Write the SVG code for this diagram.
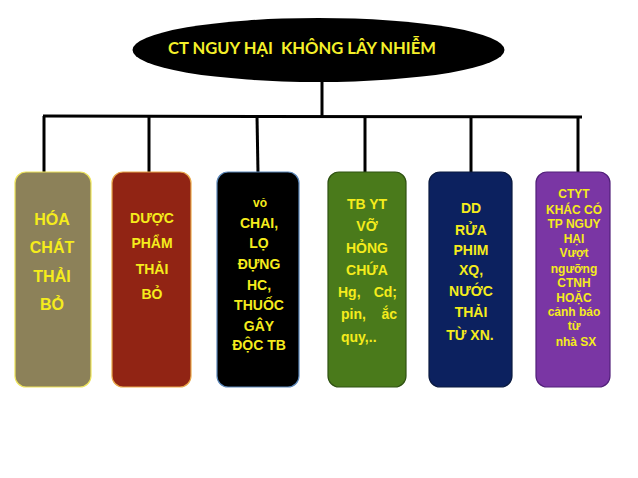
<svg xmlns="http://www.w3.org/2000/svg" width="638" height="478" viewBox="0 0 638 478">
<style>
.t{font-family:"Liberation Sans",Arial,sans-serif;font-weight:bold;fill:#F5EC1C;text-anchor:middle}
.ln{stroke:#000;stroke-width:3;fill:none}
.box{stroke-width:1.2}
</style>
<rect width="638" height="478" fill="#fff"/>
<g id="connectors">
<line class="ln" x1="322" y1="80" x2="322" y2="116"/>
<line class="ln" x1="43" y1="116" x2="582" y2="117"/>
<line class="ln" x1="44" y1="116" x2="44" y2="173"/>
<line class="ln" x1="149" y1="116" x2="149" y2="173"/>
<line class="ln" x1="257" y1="116" x2="258" y2="173"/>
<line class="ln" x1="365" y1="117" x2="365" y2="173"/>
<line class="ln" x1="471" y1="117" x2="471" y2="173"/>
<line class="ln" x1="578" y1="117" x2="578" y2="173"/>
</g>
<g id="title">
<ellipse cx="318.5" cy="50" rx="186" ry="32" fill="#000"/>
<text x="302" y="54" font-family="Lato,'Open Sans',sans-serif" font-weight="bold" font-size="17" fill="#F5F029" text-anchor="middle" style="white-space:pre" textLength="268" lengthAdjust="spacingAndGlyphs">CT NGUY HẠI  KHÔNG LÂY NHIỄM</text>
</g>
<g id="box1">
<rect class="box" x="15" y="172" width="76" height="215" rx="11" fill="#8C8159" stroke="#EDE45A"/>
<text class="t" font-size="16" x="52"><tspan x="52" y="225">HÓA</tspan><tspan x="52" y="253">CHÁT</tspan><tspan x="52" y="282">THẢI</tspan><tspan x="52" y="310">BỎ</tspan></text>
</g>
<g id="box2">
<rect class="box" x="112" y="172" width="79" height="215" rx="11" fill="#912414" stroke="#E9A84A"/>
<text class="t" font-size="14" x="152"><tspan x="152" y="223">DƯỢC</tspan><tspan x="152" y="248">PHẨM</tspan><tspan x="152" y="274">THẢI</tspan><tspan x="152" y="299">BỎ</tspan></text>
</g>
<g id="box3">
<rect class="box" x="217" y="172" width="82" height="215" rx="11" fill="#000" stroke="#5A86B8"/>
<text class="t" font-size="14" x="259"><tspan x="260" y="207" font-size="12">vỏ</tspan><tspan x="259" y="228">CHAI,</tspan><tspan x="259" y="248">LỌ</tspan><tspan x="259" y="269">ĐỰNG</tspan><tspan x="259" y="290">HC,</tspan><tspan x="259" y="310">THUỐC</tspan><tspan x="259" y="331">GÂY</tspan><tspan x="259" y="350">ĐỘC TB</tspan></text>
</g>
<g id="box4">
<rect class="box" x="328" y="172" width="78" height="215" rx="11" fill="#4A7A1B" stroke="#2F5212"/>
<text class="t" font-size="14" x="367"><tspan x="367" y="209">TB YT</tspan><tspan x="367" y="231">VỠ</tspan><tspan x="367" y="253">HỎNG</tspan><tspan x="367" y="275">CHỨA</tspan></text>
<text class="t" font-size="14" style="text-anchor:start" x="338" y="297">Hg,</text>
<text class="t" font-size="14" style="text-anchor:end" x="397" y="297">Cd;</text>
<text class="t" font-size="14" style="text-anchor:start" x="341" y="319">pin,</text>
<text class="t" font-size="14" style="text-anchor:end" x="397" y="319">ắc</text>
<text class="t" font-size="14" style="text-anchor:start" x="341" y="342">quy,..</text>
</g>
<g id="box5">
<rect class="box" x="429" y="172" width="83" height="215" rx="11" fill="#0C215F" stroke="#0A1A40"/>
<text class="t" font-size="14" x="472"><tspan x="471" y="213">DD</tspan><tspan x="471" y="235">RỬA</tspan><tspan x="471" y="255">PHIM</tspan><tspan x="471" y="275">XQ,</tspan><tspan x="471" y="296">NƯỚC</tspan><tspan x="471" y="317">THẢI</tspan><tspan x="470" y="340">TỪ XN.</tspan></text>
</g>
<g id="box6">
<rect class="box" x="536" y="172" width="74" height="215" rx="11" fill="#7A36A4" stroke="#52207A"/>
<text class="t" font-size="12" x="574"><tspan x="574" y="198">CTYT</tspan><tspan x="574" y="214">KHÁC CÓ</tspan><tspan x="574" y="228">TP NGUY</tspan><tspan x="574" y="243">HẠI</tspan><tspan x="574" y="257">Vượt</tspan><tspan x="574" y="273">ngưỡng</tspan><tspan x="574" y="287">CTNH</tspan><tspan x="574" y="302">HOẶC</tspan><tspan x="574" y="316">cảnh báo</tspan><tspan x="574" y="330">từ</tspan><tspan x="576" y="346">nhà SX</tspan></text>
</g>
</svg>
